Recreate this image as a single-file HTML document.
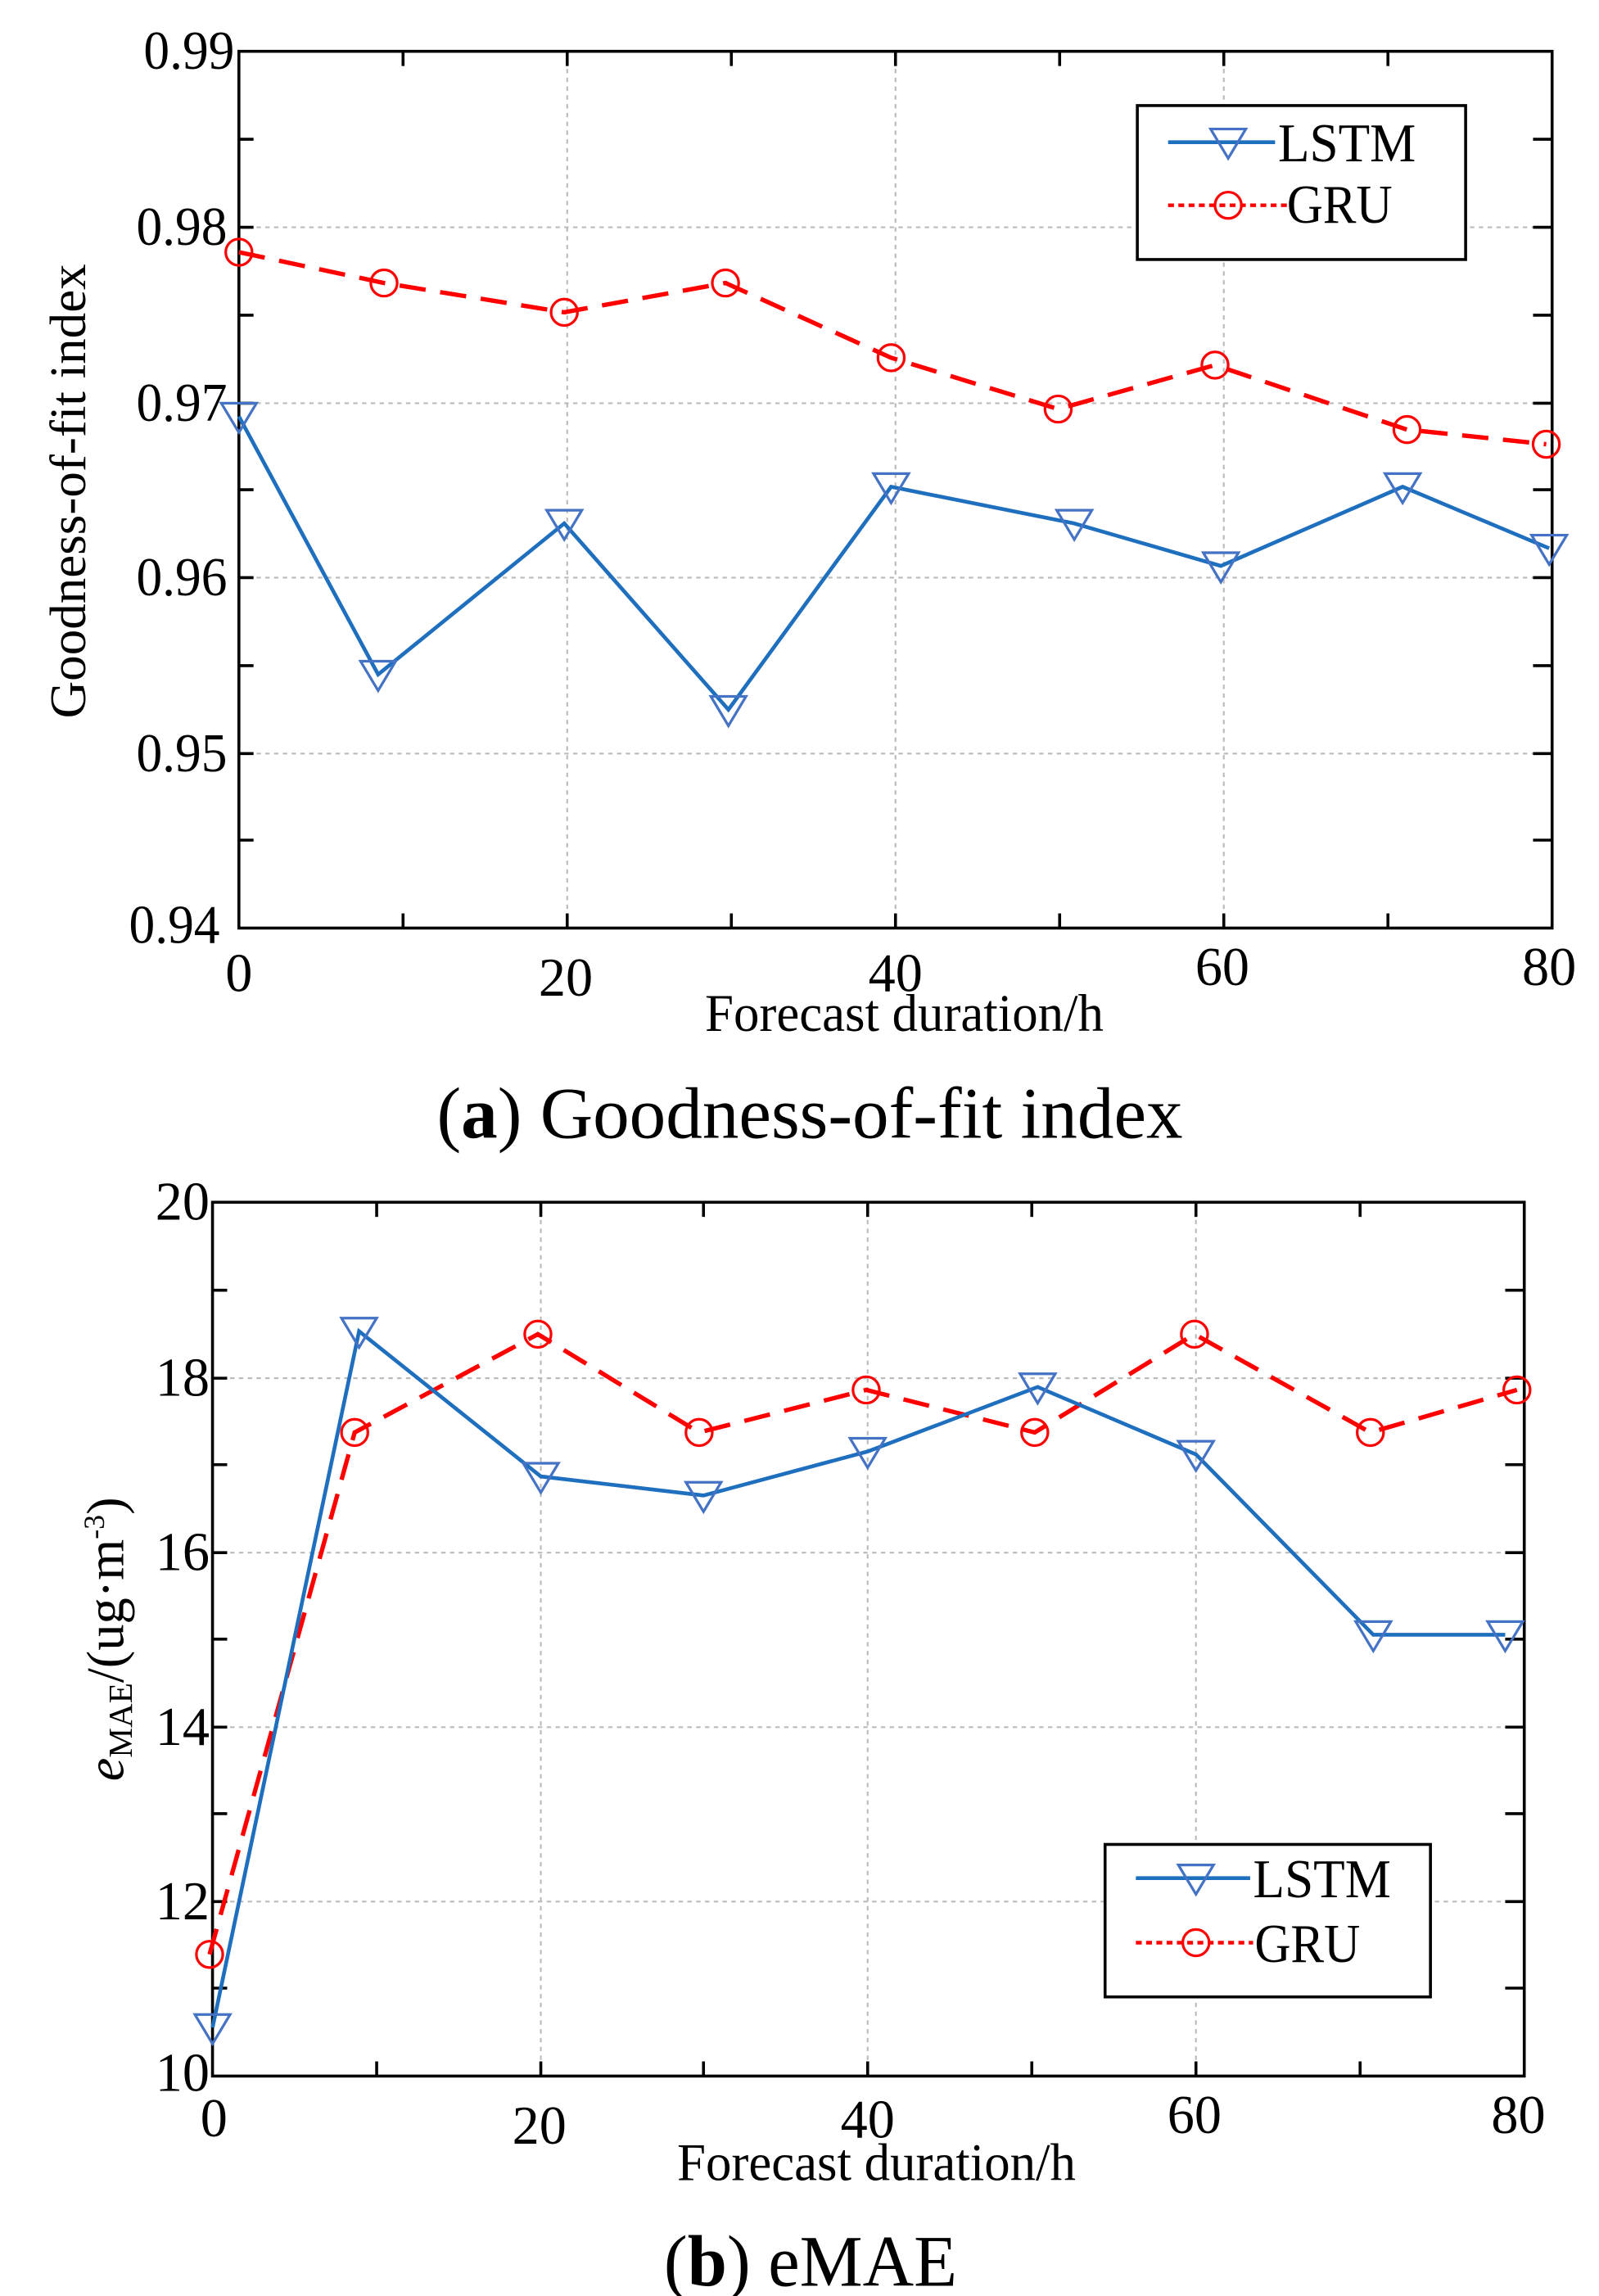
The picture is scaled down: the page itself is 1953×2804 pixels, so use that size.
<!DOCTYPE html>
<html><head><meta charset="utf-8"><style>html,body{margin:0;padding:0;background:#fff}svg{display:block}</style></head>
<body>
<svg width="1953" height="2804" viewBox="0 0 1091 1566" preserveAspectRatio="none" xmlns="http://www.w3.org/2000/svg" font-family="Liberation Serif, serif">
<defs>
<symbol id="tri" viewBox="-13 -13 26 26" overflow="visible"><path d="M-12,-9 L12,-9 L0,11 Z" fill="none" stroke="#4472c4" stroke-width="1.8"/></symbol>
</defs>
<!-- Plot A -->
<g stroke="#bbb" stroke-width="1.2" stroke-dasharray="3,3">
<line x1="163" y1="155" x2="1059" y2="155"/><line x1="163" y1="275" x2="1059" y2="275"/>
<line x1="163" y1="394" x2="1059" y2="394"/><line x1="163" y1="514" x2="1059" y2="514"/>
<line x1="387" y1="35" x2="387" y2="633"/><line x1="611" y1="35" x2="611" y2="633"/><line x1="835" y1="35" x2="835" y2="633"/>
</g>
<g stroke="#000" stroke-width="2">
<path d="M163,95h10M163,155h10M163,215h10M163,275h10M163,334h10M163,394h10M163,454h10M163,514h10M163,573h10"/>
<path d="M1059,95h-13M1059,155h-13M1059,215h-13M1059,275h-13M1059,334h-13M1059,394h-13M1059,454h-13M1059,514h-13M1059,573h-13"/>
<path d="M275,633v-10M387,633v-10M499,633v-10M611,633v-10M723,633v-10M835,633v-10M947,633v-10"/>
<path d="M275,35v10M387,35v10M499,35v10M611,35v10M723,35v10M835,35v10M947,35v10"/>
</g>
<rect x="163" y="35" width="896" height="598" fill="none" stroke="#000" stroke-width="2"/>
<polyline fill="none" stroke="#ff0000" stroke-width="3" stroke-dasharray="18,10" points="163,172 262,193 385,213 495,193 608,244 722,279 829,249 960,293 1055,303"/>
<g fill="none" stroke="#ff0000" stroke-width="1.8">
<circle cx="163" cy="172" r="9"/><circle cx="262" cy="193" r="9"/><circle cx="385" cy="213" r="9"/><circle cx="495" cy="193" r="9"/><circle cx="608" cy="244" r="9"/><circle cx="722" cy="279" r="9"/><circle cx="829" cy="249" r="9"/><circle cx="960" cy="293" r="9"/><circle cx="1055" cy="303" r="9"/>
</g>
<polyline fill="none" stroke="#1f6fbf" stroke-width="2.6" points="163,284 258,460 385,357 497,484 608,332 733,357 833,386 957,332 1057,374"/>
<g>
<use href="#tri" x="150" y="271" width="26" height="26"/><use href="#tri" x="245" y="447" width="26" height="26"/><use href="#tri" x="372" y="344" width="26" height="26"/><use href="#tri" x="484" y="471" width="26" height="26"/><use href="#tri" x="595" y="319" width="26" height="26"/><use href="#tri" x="720" y="344" width="26" height="26"/><use href="#tri" x="820" y="373" width="26" height="26"/><use href="#tri" x="944" y="319" width="26" height="26"/><use href="#tri" x="1044" y="361" width="26" height="26"/>
</g>
<rect x="776" y="72" width="224" height="105" fill="#fff" stroke="#000" stroke-width="2"/>
<line x1="797" y1="97" x2="870" y2="97" stroke="#1f6fbf" stroke-width="2.6"/>
<use href="#tri" x="825" y="84" width="26" height="26"/>
<text x="872" y="110" font-size="37" textLength="94" lengthAdjust="spacingAndGlyphs">LSTM</text>
<line x1="797" y1="140" x2="878" y2="140" stroke="#ff0000" stroke-width="2.5" stroke-dasharray="4,3"/>
<circle cx="838" cy="140" r="9" fill="none" stroke="#ff0000" stroke-width="1.8"/>
<text x="878" y="152" font-size="37" textLength="72" lengthAdjust="spacingAndGlyphs">GRU</text>
<g font-size="37" text-anchor="end">
<text x="160" y="47" textLength="62" lengthAdjust="spacingAndGlyphs">0.99</text><text x="155" y="167" textLength="62" lengthAdjust="spacingAndGlyphs">0.98</text><text x="155" y="287" textLength="62" lengthAdjust="spacingAndGlyphs">0.97</text><text x="155" y="406" textLength="62" lengthAdjust="spacingAndGlyphs">0.96</text><text x="155" y="526" textLength="62" lengthAdjust="spacingAndGlyphs">0.95</text><text x="150" y="643" textLength="62" lengthAdjust="spacingAndGlyphs">0.94</text>
</g>
<g font-size="37" text-anchor="middle">
<text x="163" y="676">0</text><text x="386" y="679">20</text><text x="611" y="676">40</text><text x="834" y="672">60</text><text x="1057" y="672">80</text>
</g>
<text x="481" y="703" font-size="36" textLength="272" lengthAdjust="spacingAndGlyphs">Forecast duration/h</text>
<text transform="translate(58,335) rotate(-90)" font-size="35" text-anchor="middle" textLength="310" lengthAdjust="spacingAndGlyphs">Goodness-of-fit index</text>
<text x="298" y="776" font-size="50" textLength="509" lengthAdjust="spacingAndGlyphs">(<tspan font-weight="bold">a</tspan>) Goodness-of-fit index</text>

<!-- Plot B -->
<g stroke="#bbb" stroke-width="1.2" stroke-dasharray="3,3">
<line x1="145" y1="940" x2="1040" y2="940"/><line x1="145" y1="1059" x2="1040" y2="1059"/>
<line x1="145" y1="1178" x2="1040" y2="1178"/><line x1="145" y1="1297" x2="1040" y2="1297"/>
<line x1="369" y1="820" x2="369" y2="1416"/><line x1="592" y1="820" x2="592" y2="1416"/><line x1="816" y1="820" x2="816" y2="1416"/>
</g>
<g stroke="#000" stroke-width="2">
<path d="M145,880h10M145,940h10M145,999h10M145,1059h10M145,1118h10M145,1178h10M145,1237h10M145,1297h10M145,1356h10"/>
<path d="M1040,880h-13M1040,940h-13M1040,999h-13M1040,1059h-13M1040,1118h-13M1040,1178h-13M1040,1237h-13M1040,1297h-13M1040,1356h-13"/>
<path d="M257,1416v-10M369,1416v-10M480,1416v-10M592,1416v-10M704,1416v-10M816,1416v-10M928,1416v-10"/>
<path d="M257,820v10M369,820v10M480,820v10M592,820v10M704,820v10M816,820v10M928,820v10"/>
</g>
<rect x="145" y="820" width="895" height="596" fill="none" stroke="#000" stroke-width="2"/>
<polyline fill="none" stroke="#ff0000" stroke-width="3" stroke-dasharray="18,10" points="143,1333 242,977 367,910 477,977 591,948 706,977 815,910 935,977 1035,948"/>
<g fill="none" stroke="#ff0000" stroke-width="1.8">
<circle cx="143" cy="1333" r="9"/><circle cx="242" cy="977" r="9"/><circle cx="367" cy="910" r="9"/><circle cx="477" cy="977" r="9"/><circle cx="591" cy="948" r="9"/><circle cx="706" cy="977" r="9"/><circle cx="815" cy="910" r="9"/><circle cx="935" cy="977" r="9"/><circle cx="1035" cy="948" r="9"/>
</g>
<polyline fill="none" stroke="#1f6fbf" stroke-width="2.6" points="145,1383 245,908 369,1007 480,1020 592,990 708,946 816,992 937,1115 1027,1115"/>
<g>
<use href="#tri" x="132" y="1370" width="26" height="26"/><use href="#tri" x="232" y="895" width="26" height="26"/><use href="#tri" x="356" y="994" width="26" height="26"/><use href="#tri" x="467" y="1007" width="26" height="26"/><use href="#tri" x="579" y="977" width="26" height="26"/><use href="#tri" x="695" y="933" width="26" height="26"/><use href="#tri" x="803" y="979" width="26" height="26"/><use href="#tri" x="924" y="1102" width="26" height="26"/><use href="#tri" x="1014" y="1102" width="26" height="26"/>
</g>
<rect x="754" y="1258" width="222" height="104" fill="#fff" stroke="#000" stroke-width="2"/>
<line x1="775" y1="1281" x2="853" y2="1281" stroke="#1f6fbf" stroke-width="2.6"/>
<use href="#tri" x="803" y="1268" width="26" height="26"/>
<text x="855" y="1294" font-size="37" textLength="94" lengthAdjust="spacingAndGlyphs">LSTM</text>
<line x1="775" y1="1325" x2="855" y2="1325" stroke="#ff0000" stroke-width="2.5" stroke-dasharray="4,3"/>
<circle cx="816" cy="1325" r="9" fill="none" stroke="#ff0000" stroke-width="1.8"/>
<text x="856" y="1338" font-size="37" textLength="72" lengthAdjust="spacingAndGlyphs">GRU</text>
<g font-size="37" text-anchor="end">
<text x="143" y="832">20</text><text x="143" y="952">18</text><text x="143" y="1071">16</text><text x="143" y="1190">14</text><text x="143" y="1309">12</text><text x="143" y="1426">10</text>
</g>
<g font-size="37" text-anchor="middle">
<text x="146" y="1457">0</text><text x="368" y="1462">20</text><text x="592" y="1458">40</text><text x="815" y="1455">60</text><text x="1036" y="1455">80</text>
</g>
<text x="462" y="1487" font-size="36" textLength="272" lengthAdjust="spacingAndGlyphs">Forecast duration/h</text>
<text transform="translate(84,1118) rotate(-90)" font-size="36" text-anchor="middle"><tspan font-style="italic">e</tspan><tspan font-size="23" dy="6">MAE</tspan><tspan dy="-6">/(ug·m</tspan><tspan font-size="20" dy="-13">-3</tspan><tspan dy="13">)</tspan></text>
<text x="453" y="1559" font-size="50" textLength="200" lengthAdjust="spacingAndGlyphs">(<tspan font-weight="bold">b</tspan>) eMAE</text>
</svg>
</body></html>
